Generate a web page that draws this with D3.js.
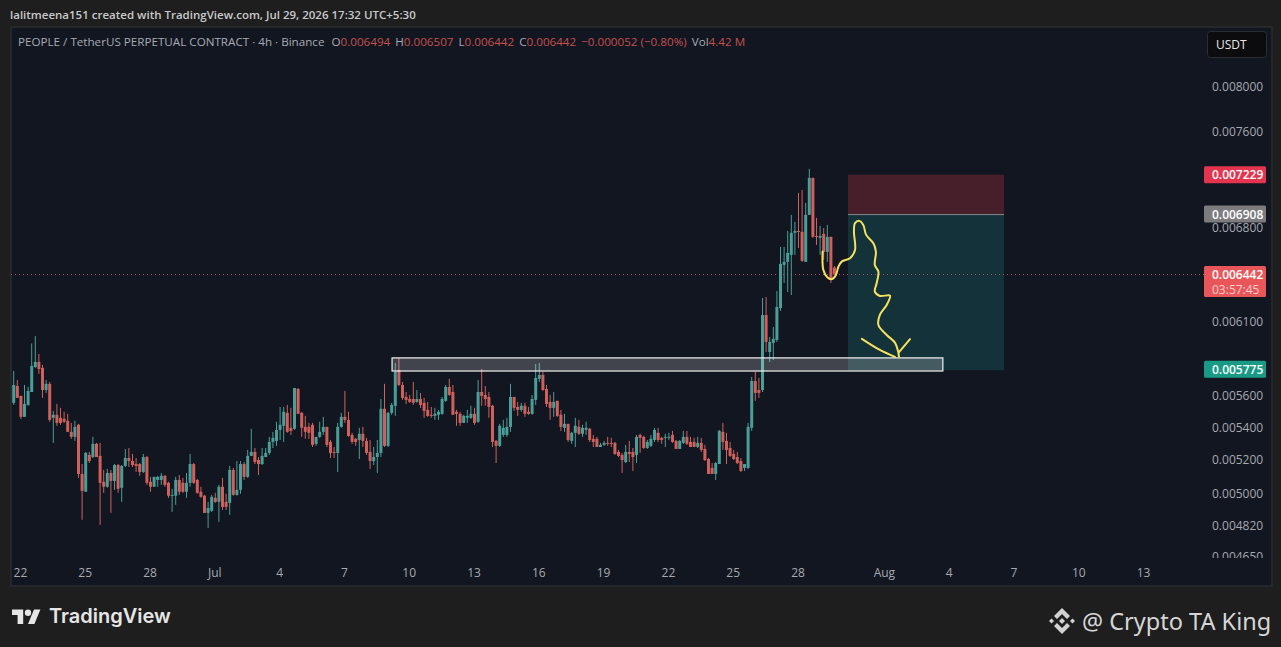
<!DOCTYPE html>
<html>
<head>
<meta charset="utf-8">
<script src="https://cdn.jsdelivr.net/npm/d3@7"></script>
<style>
  html, body { margin: 0; padding: 0; background: #1e1e1e; }
  svg { display: block; }
  text { font-family: "Open Sans", sans-serif; }
</style>
</head>
<body>
<svg id="chart" width="1281" height="647"></svg>
<script>
////////////////////////////////////////////////////////////////////////////////
// Data, prices in millionths of a USDT (the chart quotes six decimals)
var opens = [
  5555,5664,5600,5466,5542,5625,5790,5824,5784,5638,
  5678,5460,5479,5460,5453,5441,5372,5341,5416,5117,
  5013,5231,5218,5298,5225,5071,5042,5123,5076,5170,
  5036,5165,5212,5194,5176,5176,5129,5218,5071,5042,
  5082,5082,5106,5065,4990,4990,5082,5065,5013,5065,
  5176,5082,5013,4990,4892,4904,4978,4955,5042,4955,
  4949,5141,4995,5024,5176,5100,5225,5249,5200,5176,
  5218,5243,5310,5316,5384,5410,5491,5397,5391,5645,
  5491,5403,5403,5416,5298,5341,5372,5403,5310,5249,
  5243,5403,5466,5447,5353,5329,5322,5360,5316,5249,
  5194,5218,5243,5517,5286,5491,5536,5770,5671,5593,
  5580,5580,5561,5580,5555,5510,5479,5472,5479,5485,
  5568,5658,5625,5498,5485,5428,5460,5460,5485,5435,
  5625,5606,5593,5536,5316,5286,5353,5353,5403,5593,
  5529,5510,5536,5498,5485,5574,5711,5737,5645,5561,
  5523,5568,5479,5397,5422,5316,5366,5403,5360,5384,
  5391,5329,5329,5279,5292,5304,5304,5304,5249,5231,
  5188,5249,5249,5231,5353,5341,5273,5286,5322,5366,
  5335,5335,5335,5353,5316,5267,5304,5341,5310,5310,
  5279,5304,5267,5206,5153,5117,5176,5372,5316,5273,
  5237,5218,5194,5153,5153,5397,5697,5638,5638,6148,
  5891,5953,5974,6198,6514,6537,6590,6760,6775,6768,
  6537,6902,7203,6736,6721,6752,6613,6729,6494];
var highs = [
  5763,5704,5600,5671,5658,5950,6000,5878,5804,5704,
  5691,5504,5548,5523,5498,5485,5428,5441,5422,5176,
  5249,5249,5341,5304,5304,5141,5147,5141,5176,5176,
  5170,5267,5273,5237,5212,5182,5237,5225,5100,5100,
  5106,5123,5111,5071,5030,5100,5111,5094,5123,5237,
  5182,5088,5042,4995,4955,4995,5007,5053,5094,5001,
  5165,5153,5194,5194,5188,5261,5391,5273,5218,5273,
  5273,5341,5372,5435,5529,5529,5542,5523,5651,5651,
  5498,5472,5428,5428,5341,5435,5466,5403,5322,5279,
  5428,5491,5632,5498,5366,5335,5397,5403,5335,5322,
  5279,5322,5580,5678,5498,5555,5817,5850,5691,5625,
  5606,5691,5638,5619,5587,5561,5529,5523,5510,5593,
  5671,5711,5671,5510,5498,5479,5510,5536,5523,5704,
  5777,5664,5625,5542,5322,5422,5447,5460,5678,5593,
  5561,5555,5555,5529,5606,5810,5817,5757,5671,5606,
  5625,5568,5510,5485,5422,5372,5460,5447,5416,5435,
  5397,5353,5341,5304,5316,5341,5335,5310,5261,5243,
  5292,5316,5273,5353,5360,5347,5322,5353,5397,5397,
  5341,5360,5366,5378,5322,5322,5378,5378,5341,5335,
  5341,5335,5292,5212,5182,5188,5384,5428,5366,5310,
  5261,5249,5212,5176,5428,5724,5757,5717,6270,6277,
  5994,6063,6321,6651,6651,6775,6902,6846,7079,7104,
  6998,7278,7203,6878,6814,6798,6822,6729,6507];
var lows = [
  5542,5587,5453,5466,5536,5625,5784,5744,5587,5619,
  5435,5304,5410,5416,5428,5372,5329,5316,5094,4853,
  5013,5182,5212,5218,4825,5007,5036,4892,5024,5007,
  4955,5159,5159,5159,5129,5106,5123,5053,5013,5042,
  5042,5053,5042,4978,4898,4938,4995,5007,4978,5042,
  5059,5001,4978,4892,4808,4898,4949,4842,4909,4909,
  4881,4990,4990,5001,5082,5094,5225,5176,5111,5170,
  5218,5231,5273,5286,5322,5310,5366,5353,5384,5485,
  5341,5329,5329,5279,5286,5335,5353,5279,5212,5212,
  5129,5397,5428,5341,5298,5286,5206,5279,5231,5147,
  5170,5123,5218,5279,5279,5479,5472,5664,5574,5548,
  5555,5542,5555,5523,5460,5466,5460,5447,5447,5479,
  5561,5600,5479,5410,5410,5428,5428,5453,5416,5428,
  5536,5536,5460,5279,5182,5279,5341,5341,5372,5504,
  5472,5498,5466,5479,5479,5542,5691,5632,5529,5447,
  5466,5466,5378,5372,5310,5298,5279,5353,5341,5353,
  5310,5279,5279,5279,5286,5286,5279,5231,5218,5123,
  5182,5188,5135,5182,5243,5267,5267,5279,5310,5310,
  5298,5279,5322,5304,5267,5267,5298,5292,5279,5279,
  5273,5249,5194,5117,5117,5082,5176,5261,5176,5218,
  5200,5176,5129,5135,5147,5378,5568,5587,5625,5891,
  5824,5837,5960,6177,6380,6314,6292,6590,6643,6537,
  6537,6902,6721,6666,6590,6552,6537,6380,6442];
var closes = [
  5671,5587,5466,5548,5632,5797,5824,5777,5638,5678,
  5447,5479,5428,5428,5435,5372,5341,5403,5117,5018,
  5243,5194,5298,5218,5065,5042,5123,5076,5170,5030,
  5165,5212,5194,5170,5165,5129,5218,5065,5042,5100,
  5100,5106,5053,4990,4995,5082,5013,5013,5065,5176,
  5065,5007,4984,4892,4920,4984,4955,5042,4926,4926,
  5141,4995,5024,5176,5100,5225,5249,5188,5176,5225,
  5243,5310,5335,5384,5416,5498,5372,5378,5651,5485,
  5397,5372,5366,5292,5341,5372,5403,5292,5243,5243,
  5403,5466,5447,5347,5310,5310,5360,5316,5243,5194,
  5218,5243,5517,5286,5491,5542,5757,5671,5587,5574,
  5561,5555,5580,5542,5504,5472,5472,5485,5498,5580,
  5658,5606,5479,5485,5428,5472,5472,5485,5428,5625,
  5600,5580,5529,5310,5286,5410,5397,5403,5593,5523,
  5510,5536,5485,5485,5580,5717,5737,5638,5548,5523,
  5561,5472,5403,5422,5322,5366,5410,5360,5397,5397,
  5322,5310,5279,5292,5304,5298,5298,5237,5225,5200,
  5249,5237,5218,5341,5335,5273,5310,5329,5384,5322,
  5322,5341,5341,5310,5267,5316,5341,5298,5279,5279,
  5304,5261,5200,5117,5117,5182,5378,5310,5261,5225,
  5206,5182,5135,5176,5403,5697,5619,5619,6148,5960,
  5960,5981,6205,6522,6537,6605,6760,6775,6767,6545,
  6902,7203,6729,6729,6736,6613,6729,6402,6442];

var priceTicks = [8000, 7600, 6800, 6100, 5600, 5400, 5200, 5000, 4820, 4650];
var timeBars = [2, 20, 38, 56, 74, 92, 110, 128, 146, 164, 182, 200, 218, 242, 260, 278, 296, 314];
var timeLabels = ["22", "25", "28", "Jul", "4", "7", "10", "13", "16", "19", "22", "25", "28", "Aug", "4", "7", "10", "13"];

var lastPrice = 6442, stopPrice = 7229, entryPrice = 6908, targetPrice = 5775;
var toolBars = [231.75, 275.1];     // long/short position tool
var zoneBars = [105.1, 258.1];      // white support box
var zonePrices = [5851, 5763];

// hand drawn arrow, bar index and price
var squiggleBars = [224.7,224.9,226,227.2,228.4,229.1,230,232.3,233.7,233.4,233.7,234.9,236,236.8,238.8,239.5,239.2,240.2,239.7,239.2,240.6,243.4,242.5,240.6,240.2,242.5,244.8,245.7,245.9];
var squigglePrices = [6615,6477,6422,6407,6439,6502,6539,6565,6628,6770,6836,6854,6822,6744,6679,6615,6514,6464,6378,6316,6285,6287,6220,6149,6078,6008,5955,5892,5858];
var arrowLeftBars = [235.6, 240.6, 244.8];
var arrowLeftPrices = [5981, 5905, 5858];
var arrowRightBars = [248.97, 246];
var arrowRightPrices = [5979, 5892];

////////////////////////////////////////////////////////////////////////////////
const svg = d3.select("#chart");
var upColor = "#4b9e98", downColor = "#cf615d";
var fmt = function(v) { return d3.format(".6f")(v / 1e6); };

var x = d3.scaleLinear().domain([0, 100]).range([13.7, 373.7]);
var y = d3.scaleLog().domain([8000, 5000]).range([87, 494]);

// frame
svg.append("rect").attr("width", 1281).attr("height", 647).attr("fill", "#1e1e1e");
svg.append("rect").attr("x", 11).attr("y", 27).attr("width", 1261).attr("height", 559)
   .attr("fill", "#121620").attr("stroke", "#2b2c2e").attr("stroke-width", 1.5);

svg.append("defs").append("clipPath").attr("id", "axisClip")
   .append("rect").attr("x", 1200).attr("y", 60).attr("width", 70).attr("height", 498);

// position tool
svg.append("rect").attr("x", x(toolBars[0])).attr("y", y(stopPrice))
   .attr("width", x(toolBars[1]) - x(toolBars[0])).attr("height", y(entryPrice) - y(stopPrice))
   .attr("fill", "#471f2b");
svg.append("rect").attr("x", x(toolBars[0])).attr("y", y(entryPrice))
   .attr("width", x(toolBars[1]) - x(toolBars[0])).attr("height", y(targetPrice) - y(entryPrice) + 1)
   .attr("fill", "#14323a");
svg.append("line").attr("x1", x(toolBars[0])).attr("x2", x(toolBars[1]))
   .attr("y1", y(entryPrice) + 0.5).attr("y2", y(entryPrice) + 0.5)
   .attr("stroke", "#8a8a90").attr("stroke-width", 1);

// last price line
svg.append("line").attr("x1", 11).attr("x2", 1204)
   .attr("y1", y(lastPrice)).attr("y2", y(lastPrice))
   .attr("stroke", "#a45a5c").attr("stroke-width", 1).attr("stroke-dasharray", "1 3");

// candles
var bars = svg.append("g").style("filter", "blur(0.35px)")
    .selectAll("g").data(d3.range(closes.length)).enter().append("g");
bars.append("line")
    .attr("x1", function(d) { return x(d); })
    .attr("x2", function(d) { return x(d); })
    .attr("y1", function(d) { return y(highs[d]); })
    .attr("y2", function(d) { return y(lows[d]); })
    .attr("stroke", function(d) { return closes[d] >= opens[d] ? upColor : downColor; })
    .attr("stroke-width", 1);
bars.append("rect")
    .attr("x", function(d) { return x(d) - 1.5; })
    .attr("width", 3)
    .attr("y", function(d) { return y(Math.max(opens[d], closes[d])); })
    .attr("height", function(d) { return Math.max(1, Math.abs(y(opens[d]) - y(closes[d]))); })
    .attr("fill", function(d) { return closes[d] >= opens[d] ? upColor : downColor; });

// white box
svg.append("rect").attr("x", x(zoneBars[0])).attr("y", y(zonePrices[0]))
   .attr("width", x(zoneBars[1]) - x(zoneBars[0])).attr("height", y(zonePrices[1]) - y(zonePrices[0]))
   .attr("fill", "rgba(255,255,255,0.2)").attr("stroke", "#f2f2f2").attr("stroke-width", 1.2);

// yellow scribble
var line = d3.line().curve(d3.curveCatmullRom)
    .x(function(d) { return x(d[0]); })
    .y(function(d) { return y(d[1]); });
[[squiggleBars, squigglePrices], [arrowLeftBars, arrowLeftPrices], [arrowRightBars, arrowRightPrices]].forEach(function(s) {
  svg.append("path").attr("d", line(d3.zip(s[0], s[1])))
     .attr("fill", "none").attr("stroke", "#f5e15f").attr("stroke-width", 2)
     .attr("stroke-linecap", "round").attr("stroke-linejoin", "round");
});

// price axis
var yAxis = d3.axisRight(y).tickValues(priceTicks).tickSize(0).tickFormat(fmt);
var yG = svg.append("g").attr("clip-path", "url(#axisClip)").append("g").attr("transform", "translate(1212,0)").call(yAxis);
yG.select(".domain").remove();
yG.selectAll("text").attr("x", 0).attr("fill", "#a6a9b0").style("font-size", "12px")
  .style("font-family", '"Open Sans", sans-serif');

// time axis
var xAxis = d3.axisBottom(x).tickValues(timeBars).tickSize(0)
    .tickFormat(function(d, i) { return timeLabels[i]; });
var xG = svg.append("g").attr("transform", "translate(-1,565)").call(xAxis);
xG.select(".domain").remove();
xG.selectAll("text").attr("fill", "#a6a9b0").style("font-size", "12px")
  .style("font-family", '"Open Sans", sans-serif');

// price tags
function tag(price, fill, h, lines) {
  var cy = y(price);
  var g = svg.append("g");
  g.append("rect").attr("x", 1204).attr("y", cy - 8.5).attr("width", 62).attr("height", h).attr("rx", 1.5).attr("fill", fill);
  lines.forEach(function(l, i) {
    g.append("text").attr("x", 1212).attr("y", cy + 4.5 + i * 15).text(l.t)
     .attr("fill", l.c).style("font-size", "12px").style("font-weight", l.w);
  });
}
tag(stopPrice, "#e5344e", 17, [{t: fmt(stopPrice), c: "#ffffff", w: 600}]);
tag(entryPrice, "#7c7c7f", 17, [{t: fmt(entryPrice), c: "#ffffff", w: 600}]);
tag(lastPrice, "#e9565a", 31, [{t: fmt(lastPrice), c: "#ffffff", w: 600}, {t: "03:57:45", c: "#f7cfcf", w: 400}]);
tag(targetPrice, "#189a84", 17, [{t: fmt(targetPrice), c: "#ffffff", w: 600}]);

// currency button
svg.append("rect").attr("x", 1207.5).attr("y", 31.5).attr("width", 59).attr("height", 26).attr("rx", 3)
   .attr("fill", "#0c0c0e").attr("stroke", "#2a2d35");
svg.append("text").attr("x", 1216).attr("y", 49).text("USDT").attr("fill", "#e6e6e6").style("font-size", "12px");

// header
svg.append("text").attr("x", 10).attr("y", 19)
   .text("lalitmeena151 created with TradingView.com, Jul 29, 2026 17:32 UTC+5:30")
   .attr("fill", "#c9c9c9").style("font-size", "11.5px").style("font-weight", 600);

var gray = "#a7abb4", red = "#c4504f";
var legend = svg.append("text").attr("x", 18).attr("y", 46).style("font-size", "11.65px");
[["PEOPLE / TetherUS PERPETUAL CONTRACT · 4h · Binance", gray, 0],
 ["O", gray, 7], ["0.006494", red, 0],
 ["H", gray, 5], ["0.006507", red, 0],
 ["L", gray, 5], ["0.006442", red, 0],
 ["C", gray, 5], ["0.006442", red, 0],
 ["−0.000052 (−0.80%)", red, 5],
 ["Vol", gray, 5], ["4.42 M", red, 0]].forEach(function(p) {
  legend.append("tspan").attr("dx", p[2]).attr("fill", p[1]).text(p[0]);
});

// TradingView logo
var logo = svg.append("g").attr("transform", "translate(12,606.3) scale(0.8)").attr("fill", "#e6e6e6");
logo.append("path").attr("d", "M14 22H7V11H0V4h14v18zM28 22h-8l7.5-18h8L28 22z");
logo.append("circle").attr("cx", 20).attr("cy", 8).attr("r", 4);
svg.append("text").attr("x", 49).attr("y", 623).text("TradingView")
   .attr("fill", "#e6e6e6").style("font-size", "20px").style("font-weight", 600)
   .style("font-family", 'Inter, sans-serif');

// Binance mark and watermark
var mark = svg.append("g").attr("transform", "translate(1062,621)").attr("fill", "#d2d2d2");
["M0-13L8-5 5-2 0-7-5-2-8-5Z", "M0 13L8 5 5 2 0 7-5 2-8 5Z", "M0-3L3 0 0 3-3 0Z",
 "M-13 0L-10.5-2.5-8 0-10.5 2.5Z", "M13 0L10.5-2.5 8 0 10.5 2.5Z"].forEach(function(p) {
  mark.append("path").attr("d", p);
});
svg.append("text").attr("x", 1082).attr("y", 630).text("@ Crypto TA King")
   .attr("fill", "#d6d6d6").style("font-size", "23.5px").style("font-family", '"Noto Sans", sans-serif');
</script>
</body>
</html>
